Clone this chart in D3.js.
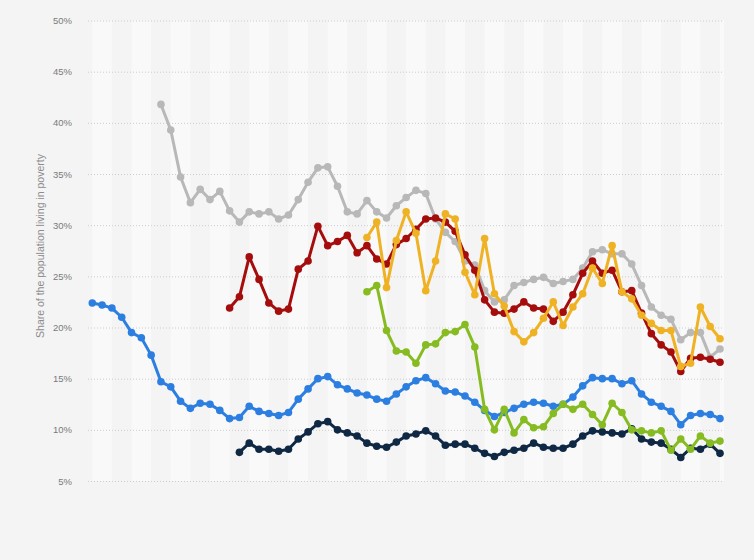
<!DOCTYPE html>
<html>
<head>
<meta charset="utf-8">
<script src="https://cdn.jsdelivr.net/npm/d3@7"></script>
<style>
    html, body { margin: 0; padding: 0; background: #f4f4f4; }
    svg { display: block; font-family: "Liberation Sans", Arial, sans-serif; }
</style>
</head>
<body>
<svg width="754" height="560"></svg>
<script>
// Years on the x axis (one point per year)
const years = [1959, 1960, 1961, 1962, 1963, 1964, 1965, 1966, 1967, 1968, 1969, 1970, 1971, 1972,
    1973, 1974, 1975, 1976, 1977, 1978, 1979, 1980, 1981, 1982, 1983, 1984, 1985, 1986, 1987,
    1988, 1989, 1990, 1991, 1992, 1993, 1994, 1995, 1996, 1997, 1998, 1999, 2000, 2001, 2002,
    2003, 2004, 2005, 2006, 2007, 2008, 2009, 2010, 2011, 2012, 2013, 2014, 2015, 2016, 2017,
    2018, 2019, 2020, 2021, 2022, 2023];

// Y axis ticks (percent)
const yTicks = [5, 10, 15, 20, 25, 30, 35, 40, 45, 50];
const yTitle = "Share of the population living in poverty";

// Series values, each one starts at its own first year
const blueStart = 1959;
const blueValues = [22.4, 22.2, 21.9, 21.0, 19.5, 19.0, 17.3, 14.7, 14.2, 12.8,
    12.1, 12.6, 12.5, 11.9, 11.1, 11.2, 12.3, 11.8, 11.6, 11.4,
    11.7, 13.0, 14.0, 15.0, 15.2, 14.4, 14.0, 13.6, 13.4, 13.0,
    12.8, 13.5, 14.2, 14.8, 15.1, 14.5, 13.8, 13.7, 13.3, 12.7,
    11.9, 11.3, 11.7, 12.1, 12.5, 12.7, 12.6, 12.3, 12.5, 13.2,
    14.3, 15.1, 15.0, 15.0, 14.5, 14.8, 13.5, 12.7, 12.3, 11.8,
    10.5, 11.4, 11.6, 11.5, 11.1];

const navyStart = 1974;
const navyValues = [7.8, 8.7, 8.1, 8.1, 7.9, 8.1, 9.1, 9.8, 10.6, 10.8,
    10.0, 9.7, 9.4, 8.7, 8.4, 8.3, 8.8, 9.4, 9.6, 9.9,
    9.4, 8.5, 8.6, 8.6, 8.2, 7.7, 7.4, 7.8, 8.0, 8.2,
    8.7, 8.3, 8.2, 8.2, 8.6, 9.4, 9.9, 9.8, 9.7, 9.6,
    10.1, 9.1, 8.8, 8.7, 8.1, 7.3, 8.2, 8.1, 8.6, 7.7];

const grayStart = 1966;
const grayValues = [41.8, 39.3, 34.7, 32.2, 33.5, 32.5, 33.3, 31.4, 30.3, 31.3,
    31.1, 31.3, 30.6, 31.0, 32.5, 34.2, 35.6, 35.7, 33.8, 31.3,
    31.1, 32.4, 31.3, 30.7, 31.9, 32.7, 33.4, 33.1, 30.6, 29.3,
    28.4, 26.5, 26.1, 23.6, 22.5, 22.7, 24.1, 24.4, 24.7, 24.9,
    24.3, 24.5, 24.7, 25.8, 27.4, 27.6, 27.2, 27.2, 26.2, 24.1,
    22.0, 21.2, 20.8, 18.8, 19.5, 19.5, 17.1, 17.9];

const redStart = 1973;
const redValues = [21.9, 23.0, 26.9, 24.7, 22.4, 21.6, 21.8, 25.7, 26.5, 29.9,
    28.0, 28.4, 29.0, 27.3, 28.0, 26.7, 26.2, 28.1, 28.7, 29.6,
    30.6, 30.7, 30.3, 29.4, 27.1, 25.6, 22.7, 21.5, 21.4, 21.8,
    22.5, 21.9, 21.8, 20.6, 21.5, 23.2, 25.3, 26.5, 25.3, 25.6,
    23.5, 23.6, 21.4, 19.4, 18.3, 17.6, 15.7, 17.0, 17.1, 16.9,
    16.6];

const greenStart = 1987;
const greenValues = [23.5, 24.1, 19.7, 17.7, 17.6, 16.5, 18.3, 18.4, 19.5, 19.6,
    20.3, 18.1, 12.0, 10.0, 12.0, 9.7, 11.0, 10.2, 10.3, 11.6,
    12.5, 12.0, 12.5, 11.5, 10.5, 12.6, 11.7, 10.0, 9.9, 9.7,
    9.9, 8.0, 9.1, 8.1, 9.4, 8.7, 8.9];

const goldStart = 1987;
const goldValues = [28.8, 30.3, 23.9, 28.5, 31.3, 29.2, 23.6, 26.5, 31.1, 30.6,
    25.4, 23.2, 28.7, 23.3, 22.1, 19.6, 18.6, 19.5, 20.9, 22.5,
    20.2, 22.0, 23.3, 25.8, 24.3, 28.0, 23.5, 22.8, 21.2, 20.4,
    19.7, 19.7, 16.2, 16.5, 22.0, 20.1, 18.9];

// Drawing order: first one ends up at the bottom
const series = [
    { name: "blue", color: "#2c7fe0", start: blueStart, values: blueValues },
    { name: "navy", color: "#0f2844", start: navyStart, values: navyValues },
    { name: "gray", color: "#b8b8b8", start: grayStart, values: grayValues },
    { name: "red", color: "#a50d0d", start: redStart, values: redValues },
    { name: "green", color: "#86bc22", start: greenStart, values: greenValues },
    { name: "gold", color: "#efb224", start: goldStart, values: goldValues }
];

// Plot frame
const plotLeft = 88;
const plotRight = 724;

const svg = d3.select("svg");

const x = d3.scaleLinear()
    .domain([years[0], years[years.length - 1]])
    .range([92.3, 720]);

const y = d3.scaleLinear()
    .domain([5, 50])
    .range([481, 20.5]);

// Alternating column shading, two years per band
const bandYears = years.filter((yr, i) => i % 4 === 0);
svg.append("g")
    .attr("class", "bands")
    .selectAll("rect")
    .data(bandYears)
    .join("rect")
    .attr("x", d => x(d))
    .attr("y", y(50))
    .attr("width", d => Math.min(x(d + 2), plotRight) - x(d))
    .attr("height", y(5) - y(50))
    .attr("fill", "#f9f9f9");

// Y axis with dotted gridlines
const yAxis = svg.append("g")
    .attr("class", "y-axis")
    .attr("transform", `translate(${plotLeft},0)`)
    .call(d3.axisLeft(y)
        .tickValues(yTicks)
        .tickSize(-(plotRight - plotLeft))
        .tickPadding(16)
        .tickFormat(d => d + "%"));

yAxis.select(".domain").remove();
yAxis.selectAll(".tick line")
    .attr("stroke", "#cccccc")
    .attr("stroke-dasharray", "1,2");
yAxis.selectAll(".tick text")
    .attr("fill", "#7a7a7a")
    .attr("font-size", "9.5px")
    .attr("font-family", "Liberation Sans, Arial, sans-serif");

// Axis title
svg.append("text")
    .attr("transform", "translate(43.5,246) rotate(-90)")
    .attr("text-anchor", "middle")
    .attr("fill", "#8c8c8c")
    .attr("font-size", "10.5px")
    .text(yTitle);

const line = d3.line()
    .x(d => x(d.year))
    .y(d => y(d.value));

// One group per series: line first, then its markers
series.forEach(s => {
    const points = s.values.map((v, i) => ({ year: s.start + i, value: v }));
    const g = svg.append("g").attr("class", "series-" + s.name);

    g.append("path")
        .datum(points)
        .attr("fill", "none")
        .attr("stroke", s.color)
        .attr("stroke-width", 3)
        .attr("stroke-linejoin", "round")
        .attr("d", line);

    g.selectAll("circle")
        .data(points)
        .join("circle")
        .attr("cx", d => x(d.year))
        .attr("cy", d => y(d.value))
        .attr("r", 3.8)
        .attr("fill", s.color);
});
</script>
</body>
</html>
